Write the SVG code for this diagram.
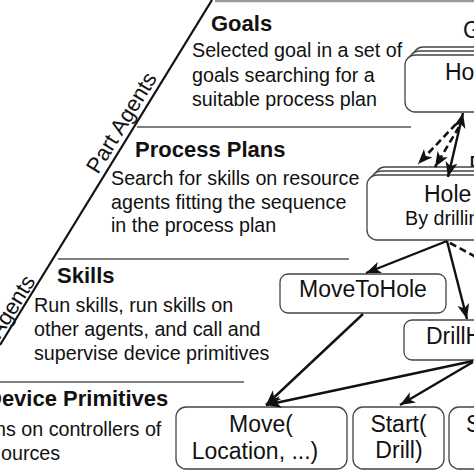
<svg xmlns="http://www.w3.org/2000/svg" width="474" height="474" viewBox="0 0 474 474">
<defs>
<marker id="ah" markerUnits="userSpaceOnUse" markerWidth="18" markerHeight="14" refX="15" refY="6" orient="auto">
<path d="M0,0 L15,6 L0,12 L4,6 z" fill="#111"/>
</marker>
<marker id="ahs" markerUnits="userSpaceOnUse" markerWidth="18" markerHeight="14" refX="15" refY="6" orient="auto-start-reverse">
<path d="M0,0 L15,6 L0,12 L4,6 z" fill="#111"/>
</marker>
</defs>
<style>
text{font-family:"Liberation Sans",Arial,sans-serif;fill:#111}
.h{font-size:22px;font-weight:bold}
.b{font-size:19.7px}
.n{font-size:23px}
.r{font-size:22px}
.box{fill:#fff;stroke:#444;stroke-width:1.3}
.sep{stroke:#555;stroke-width:1.5}
.c{stroke:#111;stroke-width:2.4;fill:none}
.d{stroke:#111;stroke-width:2.6;fill:none;stroke-dasharray:7,4}
</style>
<rect width="474" height="474" fill="#fff"/>

<g id="frame">
<line x1="215" y1="1" x2="474" y2="1" stroke="#999" stroke-width="2.5"/>
<line x1="212" y1="0" x2="0" y2="345" stroke="#111" stroke-width="2.2"/>
<line class="sep" x1="137" y1="127" x2="411" y2="127"/>
<line class="sep" x1="58" y1="259" x2="349" y2="259"/>
<line class="sep" x1="0" y1="382" x2="244" y2="382"/>
<text class="r" transform="translate(98,175) rotate(-58.4)">Part Agents</text>
<text class="r" text-anchor="end" transform="translate(36,281) rotate(-58.4)">Agents</text>
</g>

<g id="layer-goals">
<text class="h" x="211" y="31">Goals</text>
<text class="b" x="192" y="57">Selected goal in a set of</text>
<text class="b" x="192" y="82">goals searching for a</text>
<text class="b" x="192" y="106">suitable process plan</text>
</g>
<g id="layer-plans">
<text class="h" x="135" y="157">Process Plans</text>
<text class="b" x="111" y="185">Search for skills on resource</text>
<text class="b" x="111" y="209">agents fitting the sequence</text>
<text class="b" x="111" y="232">in the process plan</text>
</g>
<g id="layer-skills">
<text class="h" x="57" y="283">Skills</text>
<text class="b" x="34" y="312">Run skills, run skills on</text>
<text class="b" x="34" y="336">other agents, and call and</text>
<text class="b" x="34" y="360">supervise device primitives</text>
</g>
<g id="layer-primitives">
<text class="h" x="-14" y="406">Device Primitives</text>
<text class="b" x="-5" y="436">ns on controllers of</text>
<text class="b" x="1" y="460">ources</text>
</g>

<g id="node-goal">
<text class="n" x="463" y="38">G</text>
<rect class="box" x="413" y="47" width="80" height="57" rx="10"/>
<rect class="box" x="409" y="51" width="80" height="57" rx="10"/>
<rect class="box" x="405" y="55" width="80" height="57" rx="10"/>
<text class="n" x="445" y="80">Hole</text>
</g>

<g id="node-plan">
<text class="n" x="469" y="173">P</text>
<rect class="box" x="375" y="167" width="120" height="65" rx="10"/>
<rect class="box" x="371" y="171" width="120" height="65" rx="10"/>
<rect class="box" x="367" y="175" width="120" height="65" rx="10"/>
<text class="n" x="424" y="202">Hole</text>
<text class="b" font-size="19" x="405" y="225">By drilling</text>
</g>

<g id="node-movetohole">
<rect class="box" x="280" y="274" width="166" height="39" rx="8"/>
<text class="n" font-size="22" x="363" y="297" text-anchor="middle">MoveToHole</text>
</g>

<g id="node-drillhole">
<rect class="box" x="404" y="320" width="90" height="40" rx="8"/>
<text class="n" font-size="22" x="426" y="344">DrillHole</text>
</g>

<g id="node-move">
<rect class="box" x="176" y="407" width="171" height="62" rx="10"/>
<text class="n" font-size="24" x="261" y="432" text-anchor="middle">Move(</text>
<text class="n" font-size="25" x="255" y="459" text-anchor="middle">Location, ...)</text>
</g>

<g id="node-start">
<rect class="box" x="353" y="407" width="91" height="62" rx="10"/>
<text class="n" font-size="22.5" x="398.5" y="432" text-anchor="middle">Start(</text>
<text class="n" font-size="19.5" x="399" y="458" text-anchor="middle">Drill)</text>
</g>

<g id="node-s">
<rect class="box" x="449" y="407" width="60" height="62" rx="10"/>
<text class="n" x="466" y="432">S</text>
</g>

<g id="connectors">
<line class="c" x1="463" y1="113" x2="448" y2="177" marker-start="url(#ahs)" marker-end="url(#ah)"/>
<line class="d" x1="456" y1="124" x2="418" y2="164" marker-end="url(#ah)"/>
<line class="d" x1="459" y1="127" x2="435" y2="167" marker-end="url(#ah)"/>
<line class="c" x1="447" y1="241" x2="366" y2="273" marker-end="url(#ah)"/>
<line class="c" x1="447" y1="241" x2="467" y2="319" marker-end="url(#ah)"/>
<line class="d" x1="450" y1="243" x2="476" y2="257"/>
<line class="c" x1="363" y1="314" x2="266" y2="405" marker-end="url(#ah)"/>
<line class="c" x1="473" y1="361" x2="266" y2="405" marker-end="url(#ah)"/>
<line class="c" x1="473" y1="362" x2="400" y2="405" marker-end="url(#ah)"/>
</g>
</svg>
